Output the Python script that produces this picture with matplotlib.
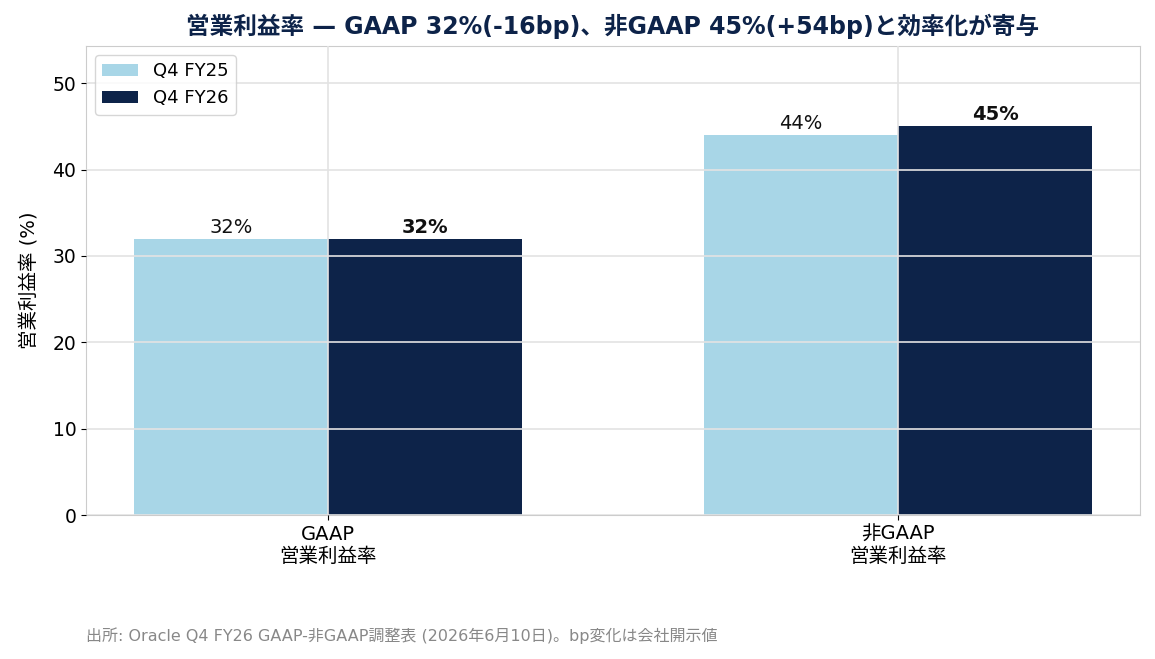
import matplotlib
matplotlib.use("Agg")
import matplotlib.pyplot as plt
import numpy as np

plt.rcParams['font.family'] = ['DejaVu Sans', 'Noto Sans CJK JP']

# データ
categories = ['GAAP\n営業利益率', '非GAAP\n営業利益率']
fy25 = [32, 44]
fy26 = [32, 45]
fy25_labels = ['32%', '44%']
fy26_labels = ['32%', '45%']

light = '#a8d6e7'
navy = '#0d2349'

fig = plt.figure(figsize=(11.55, 6.59), dpi=100)
ax = fig.add_axes([0.0745, 0.2185, 0.9125, 0.7115])

x = np.arange(len(categories))
w = 0.34
b1 = ax.bar(x - w / 2, fy25, w, color=light, label='Q4 FY25', zorder=1)
b2 = ax.bar(x + w / 2, fy26, w, color=navy, label='Q4 FY26', zorder=1)

for rect, t in zip(b1, fy25_labels):
    ax.text(rect.get_x() + rect.get_width() / 2, rect.get_height() + 0.25, t,
            ha='center', va='bottom', fontsize=14, color='#111111')
for rect, t in zip(b2, fy26_labels):
    ax.text(rect.get_x() + rect.get_width() / 2, rect.get_height() + 0.25, t,
            ha='center', va='bottom', fontsize=14, fontweight='bold', color='#111111')

ax.set_ylim(0, 54.3)
ax.set_xticks(x)
ax.set_xticklabels(categories, fontsize=14)
ax.tick_params(axis='y', labelsize=13.5)
ax.set_ylabel('営業利益率 (%)', fontsize=14, labelpad=10)

ax.grid(True, color='#e3e3e3', linewidth=1.2, zorder=2)
ax.set_axisbelow(False)
for s in ax.spines.values():
    s.set_color('#cccccc')

ax.set_title('営業利益率 — GAAP 32%(-16bp)、非GAAP 45%(+54bp)と効率化が寄与',
             fontsize=17, fontweight='bold', color='#0d2349', pad=9)

leg = ax.legend(loc='upper left', fontsize=13, frameon=True, edgecolor='#cccccc')
leg.set_zorder(5)

fig.text(0.0745, 0.028, '出所: Oracle Q4 FY26 GAAP-非GAAP調整表 (2026年6月10日)。bp変化は会社開示値',
         fontsize=11.5, color='#888888')

fig.savefig('out.png', dpi=100)
